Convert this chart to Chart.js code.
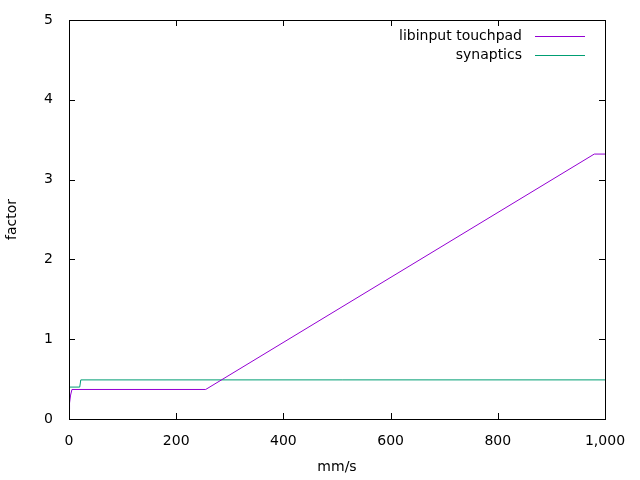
<!DOCTYPE html>
<html><head><meta charset="utf-8">
<script src="https://cdn.jsdelivr.net/npm/chart.js@4"></script>
<style>html,body{margin:0;padding:0;background:#fff}#w{width:640px;height:480px}</style>
</head><body><div id="w"><canvas id="c"></canvas></div>
<script>
const libinputX = [0, 1, 3, 5.5, 255, 980, 1000];
const libinputY = [0.12, 0.2, 0.3, 0.37, 0.37, 3.32, 3.32];
const synX = [0, 20, 22, 1000];
const synY = [0.4, 0.4, 0.49, 0.49];
const xTicks = [0, 200, 400, 600, 800, 1000];
const yTicks = [0, 1, 2, 3, 4, 5];
const FONT = 'DejaVu Sans';
const pts = (xs, ys) => xs.map((x, i) => ({x, y: ys[i]}));
const frame = {
  id: 'frame',
  afterDraw(ch) {
    const {ctx, chartArea: a, scales: {x, y}} = ch;
    ctx.save();
    ctx.strokeStyle = '#000'; ctx.lineWidth = 1;
    ctx.strokeRect(a.left + 0.5, a.top + 0.5, a.right - a.left, a.bottom - a.top);
    ctx.beginPath();
    xTicks.forEach(v => { const p = Math.round(x.getPixelForValue(v)) + 0.5;
      ctx.moveTo(p, a.bottom); ctx.lineTo(p, a.bottom - 6);
      ctx.moveTo(p, a.top); ctx.lineTo(p, a.top + 6); });
    yTicks.forEach(v => { const p = Math.round(y.getPixelForValue(v)) + 0.5;
      ctx.moveTo(a.left, p); ctx.lineTo(a.left + 6, p);
      ctx.moveTo(a.right, p); ctx.lineTo(a.right - 6, p); });
    ctx.stroke();
    ctx.font = '14px ' + FONT; ctx.fillStyle = '#000';
    ctx.textAlign = 'right'; ctx.textBaseline = 'middle';
    ch.data.datasets.forEach((d, i) => {
      const yy = 36 + i * 19;
      ctx.fillText(d.label, 522, yy);
      ctx.strokeStyle = d.borderColor; ctx.beginPath();
      ctx.moveTo(535, yy + 0.5); ctx.lineTo(585, yy + 0.5); ctx.stroke();
    });
    ctx.restore();
  }
};
new Chart(document.getElementById('c'), {
  type: 'scatter',
  data: { datasets: [
    { label: 'libinput touchpad', data: pts(libinputX, libinputY), showLine: true, borderColor: '#9400d3', borderWidth: 1, pointRadius: 0 },
    { label: 'synaptics', data: pts(synX, synY), showLine: true, borderColor: '#009e73', borderWidth: 1, pointRadius: 0 }
  ]},
  plugins: [frame],
  options: {
    responsive: true, maintainAspectRatio: false, animation: false,
    layout: { padding: { top: 20, right: 35, left: 0, bottom: 0 } },
    plugins: { legend: { display: false }, tooltip: { enabled: false } },
    scales: {
      x: { type: 'linear', min: 0, max: 1000,
        afterBuildTicks: s => { s.ticks = xTicks.map(v => ({value: v})); },
        afterFit: s => { s.height = 61; },
        grid: { display: false }, border: { display: false },
        ticks: { color: '#000', font: { family: FONT, size: 14 }, padding: 6, maxRotation: 0 },
        title: { display: true, text: 'mm/s', color: '#000', font: { family: FONT, size: 14 }, padding: { top: 8 } } },
      y: { type: 'linear', min: 0, max: 5,
        afterBuildTicks: s => { s.ticks = yTicks.map(v => ({value: v})); },
        afterFit: s => { s.width = 69; },
        grid: { display: false }, border: { display: false },
        ticks: { color: '#000', font: { family: FONT, size: 14 }, padding: 8 },
        title: { display: true, text: 'factor', color: '#000', font: { family: FONT, size: 14 }, padding: { bottom: 14 } } }
    }
  }
});
</script></body></html>
